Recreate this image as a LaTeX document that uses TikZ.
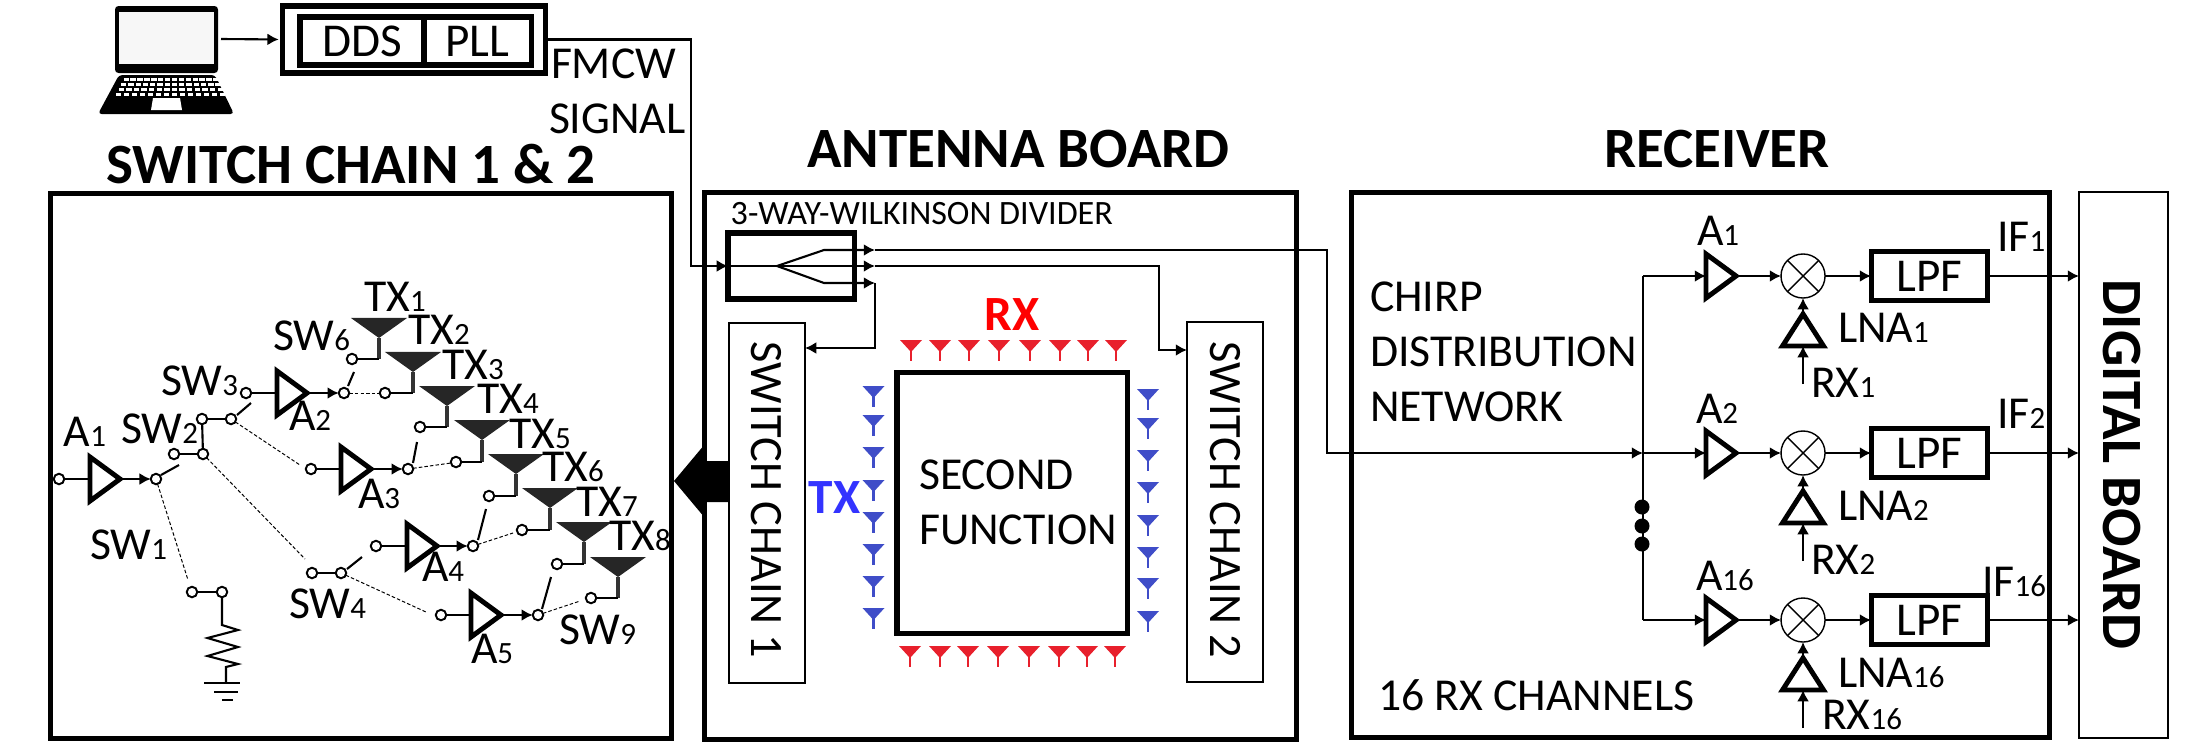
\documentclass[tikz,border=0pt]{standalone}
\usepackage{fontspec}
\setmainfont{Carlito}
\usepackage{tikz}
\usetikzlibrary{positioning,shapes.geometric,arrows.meta}

\definecolor{rxred}{HTML}{E8202C}
\definecolor{txblue}{HTML}{3F4DC8}
\newcommand{\lowd}[1]{{\fontsize{8.8}{9}\selectfont #1}}

\tikzset{
  wire/.style={line width=0.6pt},
  arrow wire/.style={wire,-{Latex[length=3.2pt,width=3.4pt]}},
  dot wire/.style={line width=0.28pt,dash pattern=on 1pt off 0.6pt},
  term node/.style={circle,draw,fill=white,line width=0.55pt,minimum size=0.105cm,inner sep=0pt,outer sep=0pt},
  amp node/.style={isosceles triangle,isosceles triangle stretches,draw,line width=1.4pt,
                   minimum width=0.44cm,minimum height=0.3cm,inner sep=0pt,outer sep=0pt,anchor=apex},
  lna node/.style={amp node,shape border rotate=90,minimum width=0.41cm,minimum height=0.32cm},
  horn node/.style={isosceles triangle,isosceles triangle stretches,fill=black!85,shape border rotate=-90,
                    minimum width=0.56cm,minimum height=0.2cm,inner sep=0pt,outer sep=0pt,anchor=apex},
  main box/.style={draw,line width=1.45pt,inner sep=0pt,outer sep=0pt},
  thin box/.style={draw,line width=0.55pt,inner sep=0pt,outer sep=0pt},
  mix node/.style={circle,draw,line width=0.4pt,minimum size=0.44cm,inner sep=0pt,outer sep=0pt},
  lbl node/.style={anchor=base west,inner sep=0pt,outer sep=0pt,font=\fontsize{13}{15}\selectfont},
  title node/.style={anchor=base west,inner sep=0pt,outer sep=0pt,font=\fontsize{16.2}{19}\selectfont\bfseries},
  small horn/.pic={\fill (-11,0) -- (11,0) -- (0,12) -- cycle; \draw[line width=0.75pt] (0,4) -- (0,21);}
}

\begin{document}
\begin{tikzpicture}[x=0.01cm,y=-0.01cm]
  \useasboundingbox (0,0) rectangle (2189,754);

  % laptop
  \fill[rounded corners=1pt] (115,6) rectangle (218,73);
  \fill[black!3] (119,12) rectangle (214,64);
  \fill[rounded corners=1pt] (119,75) -- (215,75) -- (234,114) -- (98,114) -- cycle;
  \foreach \r in {0,...,3}
    \foreach \k in {0,...,13}
      \fill[white] ({123.5-2.5*\r+\k*(6.9+0.36*\r)},{78+5*\r}) rectangle ++(5.4,3.4);
  \fill[white] (153,98) -- (180,98) -- (182,110) -- (151,110) -- cycle;
  \coordinate (pc) at (221,39);

  % signal source
  \node[main box,minimum width=2.62cm,minimum height=0.67cm] (synth) at (414,39.5) {};
  \node[main box,minimum width=1.24cm,minimum height=0.48cm] (dds) at (362,41) {};
  \node[main box,minimum width=1.07cm,minimum height=0.48cm,right=0cm of dds] (pll) {};
  \node[font=\fontsize{13.4}{15}\selectfont] (ddstext) at (dds) {DDS};
  \node[font=\fontsize{13.4}{15}\selectfont] (plltext) at (pll) {PLL};
  \path[arrow wire,shorten >=1.2pt] (pc) edge (synth.west);
  \node[lbl node] (fmcw) at (551,78) {FMCW};
  \node[lbl node] (signal) at (549,133) {SIGNAL};

  % titles
  \node[title node] (t1) at (106,183) {SWITCH CHAIN 1 \& 2};
  \node[title node] (t2) at (807,167) {ANTENNA BOARD};
  \node[title node] (t3) at (1604,167) {RECEIVER};

  % the three boards and the digital board
  \node[main box,minimum width=6.21cm,minimum height=5.45cm] (swboard) at (361,466) {};
  \node[main box,minimum width=5.91cm,minimum height=5.47cm] (antboard) at (1000.5,466) {};
  \node[main box,minimum width=6.97cm,minimum height=5.45cm] (rxboard) at (1700.5,465) {};
  \node[thin box,minimum width=0.89cm,minimum height=5.45cm] (digital) at (2123.5,465) {};
  \node[rotate=-90,font=\fontsize{16.2}{20}\selectfont\bfseries] (digitaltext) at (2122,464) {DIGITAL BOARD};

  % switch chain: terminals
  \foreach \n/\x/\y in {t0/59/479,s1/156/479,s1a/174/454,s2/203/454,s2a/202/419,s3/231/419,
                        in2/246/393,o2/344/393,in3/311/469,o3/408/469,
                        s4a/312/573,s4/341/573,in4/376/546,o4/473/546,in5/441/615,o5/538/615,
                        r1/192/592,r2/222/592}
    \node[term node] (\n) at (\x,\y) {};

  % switch chain: amplifiers
  \foreach \n/\x/\y in {1/120/479,2/307/393,3/371/469,4/437/546,5/501/615}
    \node[amp node] (amp\n) at (\x,\y) {};

  % switch chain: antennas
  \foreach \n/\x/\y/\u/\v in {1/379/338/352/359,2/413/372/385/393,3/447/406/420/427,4/482/440/456/462,
                              5/516/474/489/496,6/550/508/522/530,7/584/542/557/564,8/618/577/591/598} {
    \node[horn node] (tx\n) at (\x,\y) {};
    \node[term node] (h\n) at (\u,\v) {};
    \draw[line width=0.95pt,black!80] (tx\n.apex) -- (\x,\v);
    \draw[wire] (h\n) -- (\x,\v);
  }

  \path[wire]
    (t0) edge (amp1.lower side)
    (s1a) edge (s2)
    (s2) edge (s2a)
    (s2a) edge (s3)
    (in2) edge (amp2.lower side)
    (in3) edge (amp3.lower side)
    (s4a) edge (s4)
    (in4) edge (amp4.lower side)
    (in5) edge (amp5.lower side)
    (r1) edge (r2);
  \path[arrow wire]
    (amp1.apex) edge (s1)
    (amp2.apex) edge (o2)
    (amp3.apex) edge (o3)
    (amp4.apex) edge (o4)
    (amp5.apex) edge (o5);

  % switch arms
  \foreach \x/\y/\u/\v in {161/475/179/465,237/415/251/403,348/386/354/372,413/463/417/442,
                           347/569/362/557,478/540/486/509,542/609/551/577}
    \draw[wire] (\x,\y) -- (\u,\v);

  % open switch paths
  \foreach \n/\x/\y in {s1/188/580,s2/305/559,s3/300/465,s4/426/612,o3/451/463,o4/513/533,o5/580/601} {
    \coordinate (d\n) at (\x,\y);
    \path[dot wire] (\n) edge (d\n);
  }
  \path[dot wire] (o2) edge (h2);

  % resistor and ground
  \draw[wire] (r2) -- (222,625) -- (238,630) -- (207.5,638) -- (238,647) -- (207.5,656) -- (238,664) -- (226,667) -- (226,683);
  \draw[line width=0.8pt] (204,683) -- (240,683) (214,692) -- (238,692) (222,700) -- (233,700);

  % switch chain: labels
  \node[lbl node] (la1) at (64,446) {A\lowd{1}};
  \node[lbl node] (la2) at (289,430) {A\lowd{2}};
  \node[lbl node] (la3) at (358,508) {A\lowd{3}};
  \node[lbl node] (la4) at (422,581) {A\lowd{4}};
  \node[lbl node] (la5) at (471,663) {A\lowd{5}};
  \node[lbl node] (lsw1) at (90,559) {SW\lowd{1}};
  \node[lbl node] (lsw2) at (121,443) {SW\lowd{2}};
  \node[lbl node] (lsw3) at (161,395) {SW\lowd{3}};
  \node[lbl node] (lsw4) at (289,618) {SW\lowd{4}};
  \node[lbl node] (lsw6) at (273,350) {SW\lowd{6}};
  \node[lbl node] (lsw9) at (559,644) {SW\lowd{9}};
  \foreach \n/\x/\y in {1/364/311,2/408/344,3/442/379,4/477/413,5/509/448,6/542/481,7/576/516,8/609/550}
    \node[lbl node] (ltx\n) at (\x,\y) {TX\lowd{\n}};

  % block arrow
  \fill (674,481) -- (705,444) -- (705,461) -- (728,461) -- (728,502) -- (705,502) -- (705,518) -- cycle;

  % antenna board
  \node[anchor=base west,inner sep=0pt,font=\fontsize{9.7}{11}\selectfont] (wilktext) at (730,224) {3-WAY-WILKINSON DIVIDER};
  \node[main box,minimum width=1.26cm,minimum height=0.66cm] (wilk) at (791,266) {};
  \coordinate (fm) at (691,266);
  \coordinate (w0) at (777,266);
  \coordinate (w1) at (875,250);
  \coordinate (w2) at (875,266);
  \coordinate (w3) at (875,283);
  \coordinate (c1in) at (805,348);
  \coordinate (c2in) at (1187,350);
  \draw[arrow wire] (synth.east) -| (fm) -- (wilk.west);
  \draw[wire] (wilk.west) -- (w0);
  \draw[arrow wire] (w0) -- (824,250) -- (w1);
  \draw[arrow wire] (w0) -- (w2);
  \draw[arrow wire] (w0) -- (824,283) -- (w3);
  \draw[arrow wire] (w3) |- (c1in);
  \draw[arrow wire] (w2) -| (1159,350) -- (c2in);

  \node[thin box,minimum width=0.765cm,minimum height=3.6cm] (chain1) at (767,503) {};
  \node[thin box,minimum width=0.76cm,minimum height=3.6cm] (chain2) at (1225,502) {};
  \node[rotate=-90,font=\fontsize{13.2}{15}\selectfont] (chain1text) at (766,500) {SWITCH CHAIN 1};
  \node[rotate=-90,font=\fontsize{13.2}{15}\selectfont] (chain2text) at (1225,500) {SWITCH CHAIN 2};

  \node[main box,minimum width=2.3cm,minimum height=2.6cm] (second) at (1012,503) {};
  \node[lbl node] (secondtext) at (919,489) {SECOND};
  \node[lbl node] (functext) at (919,544) {FUNCTION};
  \node[anchor=base,inner sep=0pt,text=red,font=\fontsize{14}{16}\selectfont\bfseries] (rxtext) at (1012,330) {RX};
  \node[anchor=base west,inner sep=0pt,text=blue!80!white,font=\fontsize{14}{16}\selectfont\bfseries] (txtext) at (808,513) {TX};

  \foreach \x in {911,940,969,999,1030,1060,1088,1116}
    \pic[rxred] at (\x,340) {small horn};
  \foreach \x in {910,940,968,998,1029,1059,1087,1115}
    \pic[rxred] at (\x,646) {small horn};
  \foreach \y in {386,415,447,480,512,544,576,608}
    \pic[txblue] at (873.5,\y) {small horn};
  \foreach \y in {389,418,450,482,515,547,578,611}
    \pic[txblue] at (1148,\y) {small horn};

  % receiver
  \node[lbl node] (chirp) at (1370,311) {CHIRP};
  \node[lbl node] (distr) at (1370,366) {DISTRIBUTION};
  \node[lbl node] (network) at (1370,421) {NETWORK};
  \node[lbl node] (channels) at (1378,710) {16 RX CHANNELS};

  \coordinate (j1) at (1643,276);
  \coordinate (j2) at (1643,453);
  \coordinate (j3) at (1643,620);
  \draw[wire] (j1) -- (j3);
  \draw[arrow wire] (w1) -| (1327,453) -- (j2);
  \foreach \n/\y in {1/507,2/526,3/544}
    \node[circle,fill,minimum size=0.15cm,inner sep=0pt] (dot\n) at (1642,\y) {};

  \foreach \n/\y in {1/276,2/453,3/620} {
    \node[amp node] (ramp\n) at (1736,\y) {};
    \node[mix node] (mix\n) at (1803,\y) {};
    \node[main box,minimum width=1.16cm,minimum height=0.49cm,right=0.46cm of mix\n,font=\fontsize{13.4}{15}\selectfont] (lpf\n) {LPF};
    \node[lna node] (lna\n) at (1803,\y+38) {};
    \coordinate (rf\n) at (1803,\y+108);
    \coordinate (if\n) at (2079,\y);
    \draw (mix\n.north west) -- (mix\n.south east) (mix\n.north east) -- (mix\n.south west);
    \path[arrow wire]
      (j\n) edge (ramp\n.lower side)
      (ramp\n.apex) edge (mix\n)
      (mix\n) edge (lpf\n)
      (lna\n.apex) edge (mix\n)
      (rf\n) edge (lna\n.lower side)
      (lpf\n) edge (if\n);
  }

  \node[lbl node] (lra1) at (1697,245) {A\lowd{1}};
  \node[lbl node] (lra2) at (1696,423) {A\lowd{2}};
  \node[lbl node] (lra3) at (1696,590) {A\lowd{16}};
  \node[lbl node] (lif1) at (1997,251) {IF\lowd{1}};
  \node[lbl node] (lif2) at (1997,428) {IF\lowd{2}};
  \node[lbl node] (lif3) at (1982,596) {IF\lowd{16}};
  \node[lbl node] (llna1) at (1838,342) {LNA\lowd{1}};
  \node[lbl node] (llna2) at (1838,520) {LNA\lowd{2}};
  \node[lbl node] (llna3) at (1838,687) {LNA\lowd{16}};
  \node[lbl node] (lrx1) at (1811,397) {RX\lowd{1}};
  \node[lbl node] (lrx2) at (1811,574) {RX\lowd{2}};
  \node[lbl node] (lrx3) at (1822,729) {RX\lowd{16}};

\end{tikzpicture}
\end{document}
